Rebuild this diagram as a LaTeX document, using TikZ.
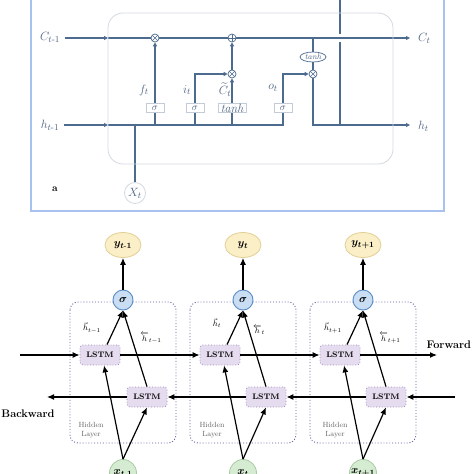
\documentclass[tikz,border=0pt]{standalone}
\usepackage{amsmath,bm}
\usetikzlibrary{arrows.meta,shapes.geometric}
\definecolor{frameblue}{HTML}{A9C1EF}
\definecolor{cellgray}{HTML}{D3DAE2}
\definecolor{wirec}{HTML}{4D6B8F}
\definecolor{labc}{HTML}{4E6482}
\definecolor{boxgray}{HTML}{C3CCD6}
\definecolor{yfill}{HTML}{FBEFC8}
\definecolor{yedge}{HTML}{E2CF95}
\definecolor{sfill}{HTML}{C9DDF3}
\definecolor{sedge}{HTML}{5B8CC8}
\definecolor{xfill}{HTML}{D6ECD2}
\definecolor{xedge}{HTML}{A6CBA0}
\definecolor{lfill}{HTML}{E6DCEF}
\definecolor{ledge}{HTML}{9A86B8}
\definecolor{hidc}{HTML}{5A5AA0}
\pgfdeclarelayer{background}
\pgfsetlayers{background,main}
\tikzset{
  wire/.style={draw=wirec, line width=1.1pt},
  warrow/.style={wire, -{Triangle[length=4pt,width=4pt]}},
  mult/.style={circle, draw=wirec, fill=white, line width=0.7pt, minimum size=8pt, inner sep=0pt,
    path picture={\draw[wirec,line width=0.5pt]
      ([shift={(-2.8pt,-2.8pt)}]path picture bounding box.center) -- ([shift={(2.8pt,2.8pt)}]path picture bounding box.center)
      ([shift={(-2.8pt,2.8pt)}]path picture bounding box.center) -- ([shift={(2.8pt,-2.8pt)}]path picture bounding box.center);}},
  addn/.style={circle, draw=wirec, fill=white, line width=0.7pt, minimum size=8pt, inner sep=0pt,
    path picture={\draw[wirec,line width=0.5pt]
      ([shift={(-4pt,0pt)}]path picture bounding box.center) -- ([shift={(4pt,0pt)}]path picture bounding box.center)
      ([shift={(0pt,-4pt)}]path picture bounding box.center) -- ([shift={(0pt,4pt)}]path picture bounding box.center);}},
  gatebox/.style={draw=boxgray, fill=white, line width=0.6pt, minimum width=18pt, minimum height=9pt, inner sep=0pt, text=labc, font=\fontsize{10}{10}\selectfont},
  tanhell/.style={ellipse, draw=wirec, fill=white, line width=0.7pt, minimum width=26pt, minimum height=10pt, inner sep=0pt, text=labc, font=\fontsize{8}{8}\selectfont\itshape},
  lbl/.style={text=labc, font=\fontsize{13}{13}\selectfont, inner sep=1pt},
  barrow/.style={draw=black, line width=1.2pt, -{Latex[length=7pt,width=6pt]}},
  ynode/.style={ellipse, draw=yedge, fill=yfill, line width=0.8pt, minimum width=36pt, minimum height=25pt, inner sep=0pt, font=\fontsize{11}{11}\selectfont},
  signode/.style={circle, draw=sedge, fill=sfill, line width=0.9pt, minimum size=20pt, inner sep=0pt, font=\fontsize{11}{11}\selectfont},
  xnode/.style={circle, draw=xedge, fill=xfill, line width=0.8pt, minimum size=27pt, inner sep=0pt, font=\fontsize{11}{11}\selectfont},
  lstm/.style={rectangle, rounded corners=3pt, draw=ledge, dotted, fill=lfill, line width=0.8pt, minimum width=40pt, minimum height=20pt, inner sep=0pt, font=\fontsize{8}{8}\selectfont\bfseries},
  hidbox/.style={draw=hidc, dotted, line width=0.9pt, rounded corners=8pt},
  hidtxt/.style={text=black!60, font=\fontsize{7.5}{9}\selectfont, align=center},
  hlab/.style={font=\fontsize{8.5}{8.5}\selectfont, inner sep=0pt}
}
\begin{document}
\begin{tikzpicture}[x=1pt,y=-1pt]
\useasboundingbox (0,0) rectangle (474,474);
\begin{pgfonlayer}{background}
\fill[white] (0,0) rectangle (474,474);
\end{pgfonlayer}

% ---------- part a ----------
\draw[frameblue, line width=1.6pt] (31,-5) -- (31,211) -- (444,211) -- (444,-5);
\draw[cellgray, rounded corners=15pt, line width=0.8pt] (108,13) rectangle (393,164);
\node[font=\fontsize{10}{10}\selectfont\bfseries] (alab) at (55,189) {a};

\node[lbl] (Cprev) at (50,37) {$C_{t\text{-}1}$};
\node[lbl, anchor=west] (Ct) at (417,38) {$C_t$};
\node[lbl] (hprev) at (50,125) {$h_{t\text{-}1}$};
\node[lbl, anchor=west] (ht) at (417,126) {$h_t$};
\coordinate (cin) at (108,38);
\coordinate (hin) at (108,125);
\coordinate (cout) at (410,38);
\coordinate (hout) at (410,125);
\coordinate (vtop) at (340,0);
\coordinate (vgap1) at (340,34);
\coordinate (vgap2) at (340,42);
\coordinate (vbot) at (340,125);

\node[mult] (mf) at (155,38) {};
\node[addn] (ad) at (232,38) {};
\node[mult] (mi) at (232,74) {};
\node[mult] (mo) at (313,74) {};
\node[tanhell] (th) at (313,57) {tanh};
\node[gatebox] (sf) at (155,108) {$\sigma$};
\node[gatebox] (si) at (195,108) {$\sigma$};
\node[gatebox, minimum width=28pt, font=\fontsize{12}{12}\selectfont\itshape] (tc) at (232,108) {tanh};
\node[gatebox] (so) at (283,108) {$\sigma$};
\node[circle, draw=cellgray, fill=white, line width=0.8pt, minimum size=21pt, inner sep=0pt, text=labc, font=\fontsize{13}{13}\selectfont] (xt) at (135,193) {$X_t$};

\node[lbl] (flab) at (144,90) {$f_t$};
\node[lbl] (ilab) at (187,90) {$i_t$};
\node[lbl] (clab) at (225,90) {$\widetilde{C}_t$};
\node[lbl] (olab) at (273,88) {$o_t$};

\begin{pgfonlayer}{background}
\draw[warrow] ([xshift=4pt]Cprev.east |- cin) -- (cin);
\draw[warrow] (cin) -- (cout);
\draw[warrow] ([xshift=4pt]hprev.east |- hin) -- (hin);
\draw[wire] (hin) -| (so.south);
\draw[warrow] (so.north) |- (mo.west);
\draw[wire] (sf.south) -- (sf.south |- hin);
\draw[warrow] (sf.north) -- (mf.south);
\draw[wire] (si.south) -- (si.south |- hin);
\draw[warrow] (si.north) |- (mi.west);
\draw[wire] (tc.south) -- (tc.south |- hin);
\draw[warrow] (tc.north) -- (mi.south);
\draw[warrow] (mi.north) -- (ad.south);
\draw[wire] (th.north |- cin) -- (th.north);
\draw[wire] (th.south) -- (mo.north);
\draw[warrow] (mo.south) |- (hout);
\draw[wire] (xt.north) -- (xt.north |- hin);
\draw[wire] (vtop) -- (vgap1);
\draw[wire] (vgap2) -- (vbot);
\end{pgfonlayer}

% ---------- part b ----------
\foreach \i/\xl in {1/70,2/190,3/310}{
  \draw[hidbox] (\xl,302) rectangle ++(106,141);
}
\node[hidtxt] (hid1) at (91,430) {Hidden\\Layer};
\node[hidtxt] (hid2) at (212,430) {Hidden\\Layer};
\node[hidtxt] (hid3) at (335,430) {Hidden\\Layer};

\node[ynode] (y1) at (123,245) {$\bm{y_{t\text{-}1}}$};
\node[ynode] (y2) at (243,245) {$\bm{y_{t}}$};
\node[ynode] (y3) at (363,245) {$\bm{y_{t+1}}$};
\node[signode] (s1) at (123,300) {$\bm{\sigma}$};
\node[signode] (s2) at (243,300) {$\bm{\sigma}$};
\node[signode] (s3) at (363,300) {$\bm{\sigma}$};
\node[lstm] (f1) at (100,355) {LSTM};
\node[lstm] (f2) at (220,355) {LSTM};
\node[lstm] (f3) at (340,355) {LSTM};
\node[lstm] (b1) at (147,397) {LSTM};
\node[lstm] (b2) at (266,397) {LSTM};
\node[lstm] (b3) at (386,397) {LSTM};
\node[xnode] (x1) at (123,473) {$\bm{x_{t\text{-}1}}$};
\node[xnode] (x2) at (243,473) {$\bm{x_{t}}$};
\node[xnode] (x3) at (363,473) {$\bm{x_{t+1}}$};

\node[font=\fontsize{11}{11}\selectfont\bfseries, anchor=west] (fwd) at (423,345) {Forward};
\node[font=\fontsize{11}{11}\selectfont\bfseries] (bwd) at (28,414) {Backward};
\coordinate (fstart) at (20,355);
\coordinate (fend) at (437,355);
\coordinate (bstart) at (455,397);
\coordinate (bend) at (47,397);

\draw[barrow] (fstart) -- (f1.west);
\draw[barrow] (f1.east) -- (f2.west);
\draw[barrow] (f2.east) -- (f3.west);
\draw[barrow] (f3.east) -- (fend);
\draw[barrow] (bstart) -- (b3.east);
\draw[barrow] (b3.west) -- (b2.east);
\draw[barrow] (b2.west) -- (b1.east);
\draw[barrow] (b1.west) -- (bend);

\foreach \k in {1,2,3}{
  \draw[barrow] (s\k.north) -- (y\k.south);
  \draw[barrow] ([xshift=7pt]f\k.north) -- (s\k.south);
  \draw[barrow] (b\k.north) -- (s\k.south);
  \draw[barrow] (x\k.north) -- ([xshift=4pt]f\k.south);
  \draw[barrow] (x\k.north) -- (b\k.south);
}

\node[hlab] (hf1) at (92,328) {$\vec{h}_{t-1}$};
\node[hlab] (hb1) at (151,338) {$\overleftarrow{h}_{t-1}$};
\node[hlab] (hf2) at (217,323) {$\vec{h}_{t}$};
\node[hlab] (hb2) at (259,330) {$\overleftarrow{h}_{t}$};
\node[hlab] (hf3) at (333,328) {$\vec{h}_{t+1}$};
\node[hlab] (hb3) at (390,338) {$\overleftarrow{h}_{t+1}$};
\end{tikzpicture}
\end{document}
